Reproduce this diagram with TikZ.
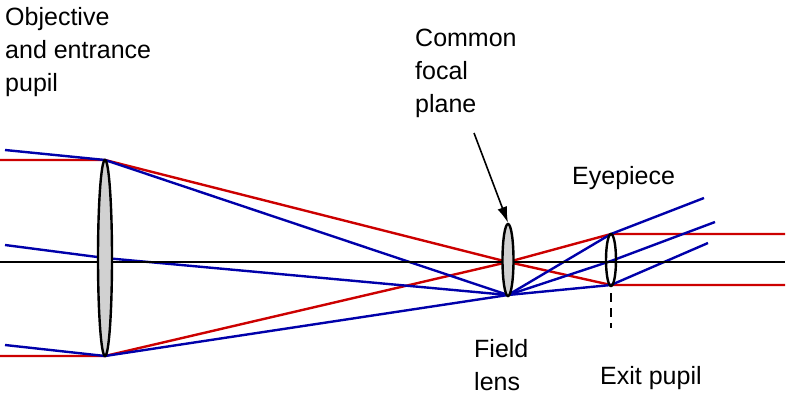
\documentclass[tikz,border=0pt]{standalone}
\usepackage{fontspec}
\usetikzlibrary{shapes.geometric,arrows.meta}
\setmainfont{Liberation Sans}
\begin{document}
\begin{tikzpicture}[x=1pt,y=-1pt,
  red ray/.style={draw={rgb,255:red,204;green,0;blue,0},line width=2.4pt},
  blue ray/.style={draw={rgb,255:red,0;green,0;blue,170},line width=2.4pt},
  lens/.style={draw=black,fill=black!18,line width=2.4pt},
  lbl/.style={font=\fontsize{25}{33}\selectfont,align=left,inner sep=0pt,anchor=base west}]
\useasboundingbox (0,0) rectangle (803,401);
\coordinate (oT) at (105,160); \coordinate (oC) at (105,258); \coordinate (oB) at (105,356);
\coordinate (fC) at (508,262); \coordinate (fB) at (508,295);
\coordinate (eT) at (611,234); \coordinate (eC) at (611,261); \coordinate (eB) at (611,285);
% red rays
\draw[red ray] (0,160) -- (oT) -- (fC) -- (eB) -- (785,285);
\draw[red ray] (0,356) -- (oB) -- (fC) -- (eT) -- (785,234);
% blue rays
\draw[blue ray] (5,150) -- (oT) -- (fB);
\draw[blue ray] (5,245) -- (oC) -- (fB);
\draw[blue ray] (5,345) -- (oB) -- (fB);
\draw[blue ray] (fB) -- (eT) -- (704,198);
\draw[blue ray] (fB) -- (eC) -- (715,222);
\draw[blue ray] (fB) -- (eB) -- (708,243);
% axis
\draw[line width=2.4pt] (0,262) -- (785,262);
% lenses
\node[lens,ellipse,minimum width=14pt,minimum height=196pt,inner sep=0pt] (obj) at (105,258) {};
\node[lens,ellipse,minimum width=11pt,minimum height=72pt,inner sep=0pt] (fl) at (508,260) {};
\node[lens,fill=none,ellipse,minimum width=10pt,minimum height=52pt,inner sep=0pt] (ep) at (611,260) {};
\draw[line width=2pt,dash pattern=on 9pt off 6pt] (ep.south) ++(0,6) -- (611,328);
% labels
\node[lbl] (t1) at (5,92) {Objective\\and entrance\\pupil};
\node[lbl] (t2) at (415,113) {Common\\focal\\plane};
\node[lbl] (t3) at (572,184) {Eyepiece};
\node[lbl] (t4) at (474,390) {Field\\lens};
\node[lbl] (t5) at (600,384) {Exit pupil};
\coordinate (arS) at (474,133);
\draw[line width=1.6pt,-{Latex[length=16pt,width=10pt]}] (arS) -- (fl.north);
\end{tikzpicture}
\end{document}
